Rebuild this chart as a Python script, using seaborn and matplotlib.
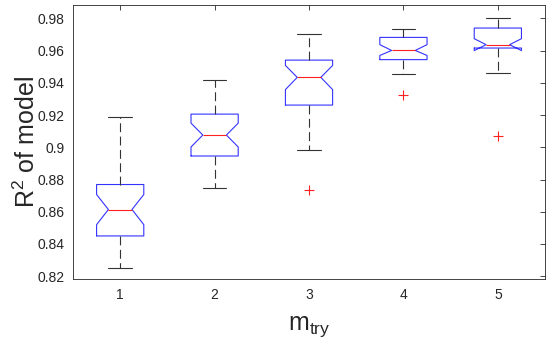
"""
Notched boxplots of model R^2 against m_try (MATLAB-style look).
"""

import matplotlib
matplotlib.use("Agg")
import matplotlib.pyplot as plt
import seaborn as sns

# Values
m_try = [1, 2, 3, 4, 5]
whisker_low = [0.8253, 0.8750, 0.8985, 0.9453, 0.9461]
q1 = [0.8450, 0.8946, 0.9262, 0.9544, 0.9616]
median = [0.8614, 0.9076, 0.9434, 0.9601, 0.9637]
q3 = [0.8769, 0.9206, 0.9541, 0.9682, 0.9740]
whisker_high = [0.9189, 0.9417, 0.9701, 0.9732, 0.9802]
notch_low = [0.8520, 0.9002, 0.9358, 0.9570, 0.9600]
notch_high = [0.8707, 0.9150, 0.9508, 0.9637, 0.9674]
outliers = [[], [], [0.8737], [0.9324], [0.9070]]
y_ticks = [0.82, 0.84, 0.86, 0.88, 0.90, 0.92, 0.94, 0.96, 0.98]

sns.set_style("white")
plt.rcParams["font.family"] = ["Liberation Sans", "DejaVu Sans"]
plt.rcParams["mathtext.fontset"] = "custom"
plt.rcParams["mathtext.rm"] = "Liberation Sans"
plt.rcParams["mathtext.it"] = "Liberation Sans:italic"

# Build the box statistics for matplotlib's bxp
stats = []
for i in range(len(m_try)):
    stats.append({
        "label": str(m_try[i]),
        "whislo": whisker_low[i],
        "q1": q1[i],
        "med": median[i],
        "q3": q3[i],
        "whishi": whisker_high[i],
        "cilo": notch_low[i],
        "cihi": notch_high[i],
        "fliers": outliers[i],
    })

fig = plt.figure(figsize=(5.5, 3.5), dpi=100)
ax = fig.add_axes([0.1327, 0.2016, 0.8583, 0.7841])

lw = 0.8
ax.bxp(
    stats,
    positions=m_try,
    widths=0.5,
    shownotches=True,
    showfliers=True,
    boxprops=dict(color="#3333ff", linewidth=lw),
    medianprops=dict(color="#ff2020", linewidth=lw),
    whiskerprops=dict(color="#333333", linewidth=lw, linestyle=(0, (8, 4))),
    capprops=dict(color="#333333", linewidth=lw),
    flierprops=dict(marker="+", markeredgecolor="#ff2020", markersize=7,
                    markeredgewidth=0.8, linestyle="none"),
)

ax.set_xlim(0.5, 5.5)
ax.set_ylim(0.818, 0.9883)
ax.set_yticks(y_ticks)
ax.set_yticklabels([f"{v:g}" for v in y_ticks])
ax.set_xticks(m_try)
ax.set_xticklabels([str(m) for m in m_try])

ax.tick_params(direction="in", top=True, right=True, length=3.5, width=0.6,
               color="#262626", labelsize=10, labelcolor="#262626", pad=6)
for sp in ax.spines.values():
    sp.set_color("#262626")
    sp.set_linewidth(0.6)

ax.set_xlabel(r"$\mathrm{m}_{\mathrm{try}}$", fontsize=18, color="#262626", labelpad=9)
ax.set_ylabel(r"R$^2$ of model", fontsize=18, color="#262626", labelpad=-2)

fig.savefig("out.png", dpi=100)
